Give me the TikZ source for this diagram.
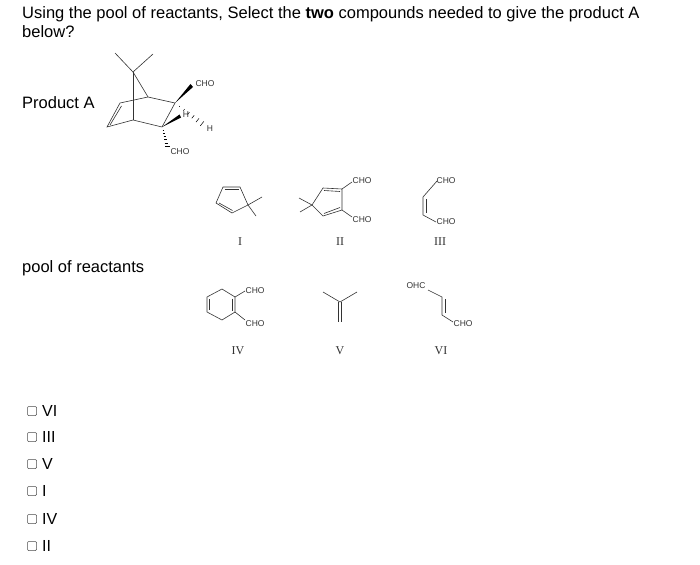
\documentclass[tikz,border=0pt]{standalone}
\usepackage{fontspec}
\setmainfont{Liberation Sans}
\newfontfamily\numfont{Liberation Serif}
\usetikzlibrary{calc}
\begin{document}
\begin{tikzpicture}[x=1pt,y=-1pt,
  bd/.style={line width=0.6pt,black!80},
  lab/.style={font=\fontsize{8.5}{9}\selectfont,inner sep=0.5pt,text=black!80},
  num/.style={font=\numfont\fontsize{12}{13}\selectfont,text=black!80},
  txt/.style={font=\fontsize{16.5}{19.5}\selectfont,anchor=west,inner sep=0},
  cb/.style={draw=black!70,line width=0.5pt,minimum size=9pt,inner sep=0,rounded corners=1pt},
  opt/.style={font=\fontsize{16}{18}\selectfont,anchor=west,inner sep=0}]
\useasboundingbox (0,0) rectangle (700,564);
\node[txt,align=left,anchor=north west] (title) at (22,6) {Using the pool of reactants, Select the \textbf{two} compounds needed to give the product A\\below?};
\node[txt] (pa) at (22,103) {Product A};
\node[txt] (pool) at (22,268) {pool of reactants};
% product A
\coordinate (m1) at (115,53); \coordinate (m2) at (153,54);
\coordinate (c7) at (133,72); \coordinate (c1) at (148,97);
\coordinate (c3) at (120,103); \coordinate (c2) at (107,127);
\coordinate (cb) at (133,120); \coordinate (c6) at (175,103);
\coordinate (c5) at (162,127);
\draw[bd] (m1)--(c7)--(m2); \draw[bd] (c7)--(c1); \draw[bd] (c7)--(cb);
\draw[bd] (c3)--(c1)--(c6)--(c5)--(cb)--(c2)--(c3);
\draw[bd] ($(c2)+(3,-2)$)--($(c3)+(1.5,3)$);
\fill[black] (c6) -- (193,87) -- (190.5,84) -- cycle;
\fill[black] (c5) -- (181,117.5) -- (179.5,114.5) -- cycle;
\foreach \t in {0.15,0.3,...,0.95}{\draw[black,line width=0.5pt] ($(c6)!\t!(205,126)+(-\t*2,\t*2.5)$)--($(c6)!\t!(205,126)+(\t*2,-\t*2.5)$);}
\foreach \t in {0.15,0.3,...,0.95}{\draw[black,line width=0.5pt] ($(c5)!\t!(168,148)+(-\t*2.5,0)$)--($(c5)!\t!(168,148)+(\t*2.5,0)$);}
\node[lab] (pc1) at (205,84) {CHO};
\node[lab] (ph1) at (186,115) {H};
\node[lab] (ph2) at (210,129) {H};
\node[lab] (pc2) at (180,152) {CHO};
% I
\coordinate (a1) at (223,187); \coordinate (a2) at (240,187); \coordinate (a3) at (248,205);
\coordinate (a4) at (232,213); \coordinate (a5) at (216,203);
\draw[bd] (a1)--(a2)--(a3)--(a4)--(a5)--cycle;
\draw[bd] ($(a1)+(1.5,2.5)$)--($(a2)+(-1,2.5)$);
\draw[bd] ($(a5)+(3,0)$)--($(a4)+(0.5,-2.5)$);
\draw[bd] (a3)--(262,197); \draw[bd] (a3)--(256,216);
\node[num] (nI) at (240,242) {I};
% II
\coordinate (b1) at (312,205); \coordinate (b2) at (323,188); \coordinate (b3) at (342,189);
\coordinate (b4) at (342,210); \coordinate (b5) at (323,216);
\draw[bd] (b1)--(b2)--(b3)--(b4)--(b5)--cycle;
\draw[bd] ($(b2)+(1,2.5)$)--($(b3)+(-2,2.5)$);
\draw[bd] ($(b5)+(1,-2.5)$)--($(b4)+(-2,-2.5)$);
\draw[bd] (b1)--(299,198); \draw[bd] (b1)--(300,212);
\draw[bd] (b3)--(352,182); \draw[bd] (b4)--(352,217);
\node[lab,anchor=west] (cII1) at (352,181) {CHO};
\node[lab,anchor=west] (cII2) at (352,220) {CHO};
\node[num] (nII) at (340,242) {II};
% III
\draw[bd] (437,181)--(423,197)--(423,215)--(436,222);
\draw[bd] (426,199)--(426,213);
\node[lab,anchor=west] (cIII1) at (436,181) {CHO};
\node[lab,anchor=west] (cIII2) at (436,222) {CHO};
\node[num] (nIII) at (440,242) {III};
% IV
\coordinate (d1) at (222,289); \coordinate (d2) at (235,297); \coordinate (d3) at (235,312);
\coordinate (d4) at (222,320); \coordinate (d5) at (207,312); \coordinate (d6) at (207,297);
\draw[bd] (d1)--(d2)--(d3)--(d4)--(d5)--(d6)--cycle;
\draw[bd] ($(d2)+(-2.5,1.5)$)--($(d3)+(-2.5,-1.5)$);
\draw[bd] ($(d6)+(2.5,2)$)--($(d5)+(2.5,-2)$);
\draw[bd] (d2)--(245,291); \draw[bd] (d3)--(245,320);
\node[lab,anchor=west] (cIV1) at (245,291) {CHO};
\node[lab,anchor=west] (cIV2) at (245,324) {CHO};
\node[num] (nIV) at (238,351) {IV};
% V
\draw[bd] (323,292)--(340,302)--(357,292);
\draw[bd] (338.5,302)--(338.5,322); \draw[bd] (341.5,302)--(341.5,322);
\node[num] (nV) at (340,351) {V};
% VI
\node[lab] (cVI1) at (416,286) {OHC};
\draw[bd] (428,290)--(442,297)--(442,315)--(453,322);
\draw[bd] (445,299)--(445,313);
\node[lab,anchor=west] (cVI2) at (453,324) {CHO};
\node[num] (nVI) at (441,351) {VI};
% options
\foreach \y/\l [count=\i] in {411/VI,437/III,464/V,491/I,519/IV,546/II}{
  \node[cb] (box\i) at (32,\y) {};
  \node[opt] (o\i) at (42,\y) {\l};
}
\end{tikzpicture}
\end{document}
